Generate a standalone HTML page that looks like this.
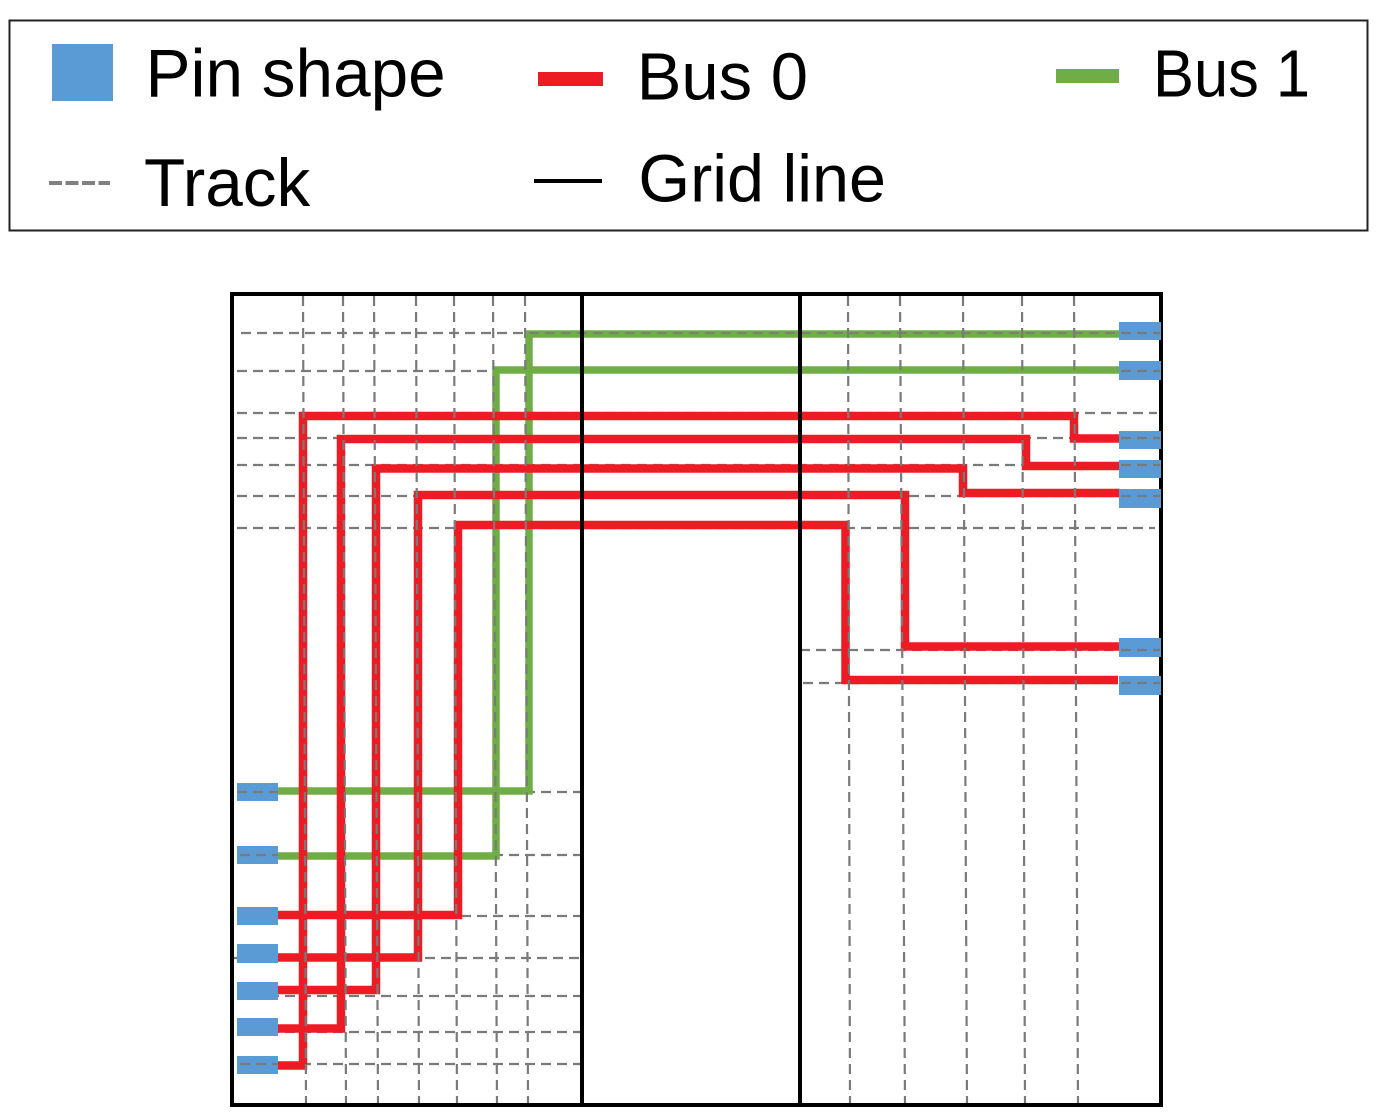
<!DOCTYPE html>
<html>
<head>
<meta charset="utf-8">
<style>
  html, body { margin:0; padding:0; background:#fff; }
  body { width:1383px; height:1117px; overflow:hidden; }
  svg { display:block; }
  text { font-family: "Liberation Sans", Arial, sans-serif; fill:#000; }
</style>
</head>
<body>
<svg width="1383" height="1117" viewBox="0 0 1383 1117" xmlns="http://www.w3.org/2000/svg">
  <!-- Legend -->
  <rect x="9.5" y="20.5" width="1358" height="210" fill="#fff" stroke="#222" stroke-width="2"/>
  <rect x="52" y="44" width="61" height="57" fill="#5b9bd5"/>
  <text x="145.5" y="96.7" font-size="67.5">Pin shape</text>
  <rect x="538" y="72" width="65" height="14" fill="#ed1c24"/>
  <text x="636.7" y="99.3" font-size="67">Bus 0</text>
  <rect x="1056" y="69" width="63" height="14" fill="#70ad47"/>
  <text x="1153" y="96.7" font-size="67" textLength="157" lengthAdjust="spacingAndGlyphs">Bus 1</text>
  <line x1="49" y1="183" x2="110" y2="183" stroke="#808080" stroke-width="4" stroke-dasharray="13 3.5"/>
  <text x="144" y="206" font-size="67.5">Track</text>
  <line x1="534" y1="181" x2="602" y2="181" stroke="#000" stroke-width="4"/>
  <text x="638.4" y="201.7" font-size="66.5">Grid line</text>

  <!-- Horizontal tracks -->
  <g stroke="#7a7a7a" stroke-width="2.2" stroke-dasharray="10 6" fill="none">
    <line x1="241" y1="333" x2="1157" y2="333"/>
    <line x1="237" y1="371" x2="1157" y2="371"/>
    <line x1="237" y1="413" x2="1157" y2="413"/>
    <line x1="237" y1="438" x2="1157" y2="438"/>
    <line x1="237" y1="465" x2="1157" y2="465"/>
    <line x1="237" y1="496" x2="1157" y2="496"/>
    <line x1="237" y1="528" x2="1155" y2="528"/>
    <!-- bottom-left rows -->
    <line x1="237" y1="792" x2="583" y2="792"/>
    <line x1="237" y1="855" x2="583" y2="855"/>
    <line x1="237" y1="916" x2="583" y2="916"/>
    <line x1="233" y1="958" x2="583" y2="958"/>
    <line x1="237" y1="996" x2="583" y2="996"/>
    <line x1="237" y1="1032" x2="583" y2="1032"/>
    <line x1="237" y1="1064" x2="583" y2="1064"/>
    <!-- right lower rows -->
    <line x1="800" y1="650" x2="1160" y2="650"/>
    <line x1="803" y1="683" x2="1160" y2="683"/>
  </g>

  <!-- Bus 1 (green) -->
  <g stroke="#70ad47" stroke-width="7.5" fill="none" stroke-linejoin="miter" stroke-linecap="butt">
    <polyline points="277,791 529,791 529,334 1120,334"/>
    <polyline points="274,856 496,856 496,370 1120,370"/>
  </g>

  <!-- Bus 0 (red) -->
  <g stroke="#ed1c24" stroke-width="8.5" fill="none" stroke-linejoin="miter" stroke-linecap="butt">
    <polyline points="277,1065.5 303,1065.5 303,416 1074,416 1074,438.5 1120,438.5"/>
    <polyline points="277,1028.5 341,1028.5 341,439 1026,439 1026,466 1120,466"/>
    <polyline points="278,990 376,990 376,468.5 963,468.5 963,493 1120,493"/>
    <polyline points="278,957.5 418,957.5 418,495 905,495 905,646.5 1120,646.5"/>
    <polyline points="277,915 458,915 458,525 845.5,525 845.5,680 1118,680"/>
  </g>

  <!-- Vertical tracks -->
  <g stroke="#7a7a7a" stroke-width="2.2" stroke-dasharray="10 6" fill="none">
    <line x1="303" y1="296" x2="306" y2="1104"/>
    <line x1="343" y1="296" x2="346" y2="1104"/>
    <line x1="374" y1="296" x2="378" y2="1104"/>
    <line x1="416" y1="296" x2="419" y2="1104"/>
    <line x1="454" y1="296" x2="457" y2="1104"/>
    <line x1="493" y1="296" x2="497" y2="1104"/>
    <line x1="525" y1="296" x2="528" y2="1104"/>
    <line x1="848" y1="296" x2="850" y2="1104"/>
    <line x1="900" y1="296" x2="905" y2="1104"/>
    <line x1="963" y1="296" x2="967" y2="1104"/>
    <line x1="1022" y1="296" x2="1025" y2="1104"/>
    <line x1="1074" y1="296" x2="1078" y2="1104"/>
  </g>

  <!-- top track row overlays green -->
  <line x1="529" y1="333" x2="1120" y2="333" stroke="#7a7a7a" stroke-width="2" stroke-dasharray="10 6" opacity="0.85"/>

  <!-- Frame and grid lines -->
  <rect x="232" y="294" width="929" height="811" fill="none" stroke="#000" stroke-width="4"/>
  <line x1="582" y1="294" x2="582" y2="1105" stroke="#000" stroke-width="4"/>
  <line x1="800" y1="294" x2="800" y2="1105" stroke="#000" stroke-width="4"/>

  <!-- Pins left -->
  <g fill="#5b9bd5">
    <rect x="237" y="783" width="41" height="18"/>
    <rect x="237" y="846" width="41" height="18"/>
    <rect x="237" y="907" width="41" height="18"/>
    <rect x="237" y="944" width="41" height="19"/>
    <rect x="237" y="982" width="41" height="18"/>
    <rect x="237" y="1018" width="41" height="18"/>
    <rect x="237" y="1056" width="41" height="18"/>
    <!-- Pins right -->
    <rect x="1119" y="322" width="42" height="18"/>
    <rect x="1119" y="361" width="42" height="19"/>
    <rect x="1119" y="431" width="42" height="18"/>
    <rect x="1119" y="460" width="42" height="18"/>
    <rect x="1119" y="489" width="42" height="19"/>
    <rect x="1119" y="638" width="42" height="19"/>
    <rect x="1119" y="676" width="42" height="19"/>
  </g>

  <!-- Track dashes visible over pins -->
  <g stroke="#7a7a7a" stroke-width="2.2" stroke-dasharray="10 6" fill="none">
    <line x1="237" y1="792" x2="278" y2="792"/>
    <line x1="240" y1="855" x2="278" y2="855"/>
    <line x1="240" y1="1064" x2="278" y2="1064"/>
    <line x1="1121" y1="333" x2="1160" y2="333"/>
    <line x1="1121" y1="371" x2="1160" y2="371"/>
    <line x1="1121" y1="438" x2="1160" y2="438"/>
    <line x1="1121" y1="465" x2="1160" y2="465"/>
    <line x1="1121" y1="496" x2="1160" y2="496"/>
    <line x1="1121" y1="650" x2="1160" y2="650"/>
    <line x1="1121" y1="683" x2="1160" y2="683"/>
  </g>
</svg>
</body>
</html>
